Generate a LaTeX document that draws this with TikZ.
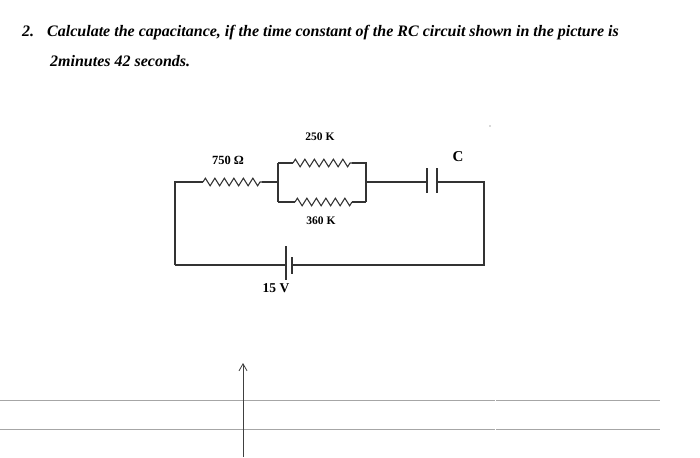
\documentclass[tikz,border=0pt]{standalone}
\usepackage{fontspec}
\setmainfont{Liberation Serif}
\usetikzlibrary{decorations.pathmorphing,arrows.meta}
\begin{document}
\begin{tikzpicture}[x=1pt,y=-1pt,
  wire/.style={line width=1.1pt,black!80},
  res/.style={wire,decorate,decoration={zigzag,segment length=9.5pt,amplitude=3.8pt}},
  lbl/.style={font=\bfseries\fontsize{12.5}{14}\selectfont},
  guide/.style={line width=1pt,gray!70}]
\useasboundingbox (0,0) rectangle (700,457);
\node[anchor=base west,inner sep=0,font=\bfseries\itshape\fontsize{16}{18}\selectfont] (q1) at (22,37) {2.\hspace{13pt}Calculate the capacitance, if the time constant of the RC circuit shown in the picture is};
\node[anchor=base west,inner sep=0,font=\bfseries\itshape\fontsize{16}{18}\selectfont] (q2) at (50,67) {2minutes 42 seconds.};
% circuit
\coordinate (tl) at (175,182); \coordinate (bl) at (175,265);
\coordinate (tr) at (484,182); \coordinate (br) at (484,265);
\coordinate (r1a) at (203,182); \coordinate (r1b) at (262,182);
\coordinate (pl) at (278,182); \coordinate (pr) at (366,182);
\coordinate (ptl) at (278,163); \coordinate (ptr) at (366,163);
\coordinate (pbl) at (278,202); \coordinate (pbr) at (366,202);
\coordinate (c1) at (427,182); \coordinate (c2) at (437,182);
\coordinate (b1) at (286,265); \coordinate (b2) at (292,265);
\draw[wire] (bl) -- (tl) -- (r1a);
\draw[res] (r1a) -- (r1b);
\draw[wire] (r1b) -- (pl);
\draw[wire] (ptl) -- (pbl);
\draw[wire] (ptl) -- (293,163); \draw[res] (293,163) -- (352,163); \draw[wire] (352,163) -- (ptr) -- (pbr);
\draw[wire] (pbl) -- (295,202); \draw[res] (295,202) -- (352,202); \draw[wire] (352,202) -- (pbr);
\draw[wire] (pr) -- (c1);
\draw[wire,line width=1.6pt] (427,168) -- (427,193);
\draw[wire,line width=1.6pt] (437,168) -- (437,193);
\draw[wire] (c2) -- (tr) -- (br) -- (b2);
\draw[wire] (b1) -- (bl);
\draw[wire] (286,246) -- (286,280);
\draw[wire] (292,257) -- (292,274);
\node[lbl] (l750) at (228,160) {750 Ω};
\node[lbl,font=\bfseries\fontsize{11.5}{13}\selectfont] (l250) at (320,137) {250 K};
\node[lbl,font=\bfseries\fontsize{11.5}{13}\selectfont] (l360) at (321,221) {360 K};
\node[lbl,font=\bfseries\fontsize{15}{16}\selectfont] (lc) at (458,157) {C};
\node[lbl,font=\bfseries\fontsize{13.5}{15}\selectfont] (l15) at (276,288) {15 V};
\fill[gray!60] (490,126) circle (0.8);
% bottom lines
\draw[guide] (0,400) -- (495,400); \draw[guide] (496,400) -- (660,400);
\draw[guide] (0,429) -- (495,429); \draw[guide] (496,429) -- (660,429);
\coordinate (ab) at (243,457); \coordinate (at) at (243,363);
\draw[line width=0.8pt,black!75,-{Straight Barb[length=7pt,width=8pt]}] (ab) -- (at);
\end{tikzpicture}
\end{document}
